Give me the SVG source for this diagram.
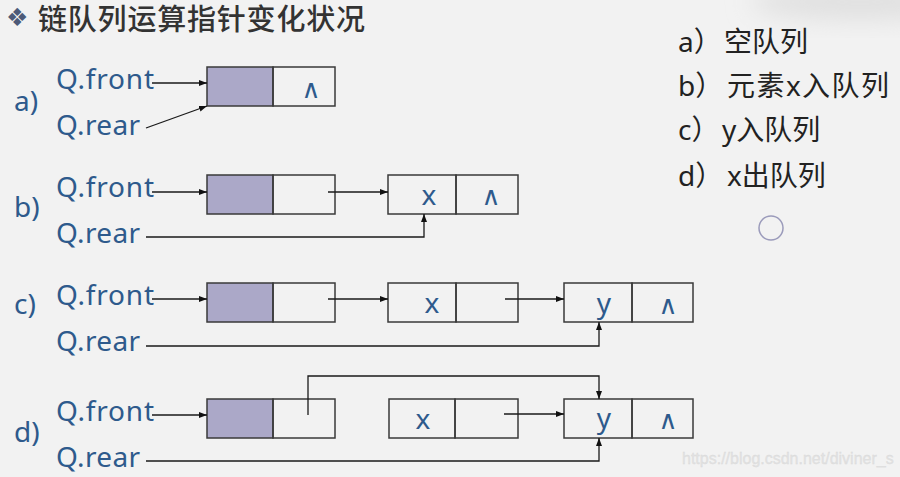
<svg xmlns="http://www.w3.org/2000/svg" width="900" height="477" viewBox="0 0 900 477">
<defs>
<marker id="ah" viewBox="0 0 8 6" refX="8" refY="3" markerWidth="8" markerHeight="6" markerUnits="userSpaceOnUse" orient="auto">
<path d="M0,0 L8,3 L0,6 Z" fill="#111"/>
</marker>
<filter id="blur" x="-50%" y="-50%" width="200%" height="200%"><feGaussianBlur stdDeviation="12"/></filter>
<style>
.bg{fill:#f2f2f2}
.box{fill:none;stroke:#3a3a3a;stroke-width:1.5}
.head{fill:#aba8c8;stroke:#3a3a3a;stroke-width:1.5}
.lbl{font-family:"Noto Sans","Open Sans",sans-serif;font-size:28px;fill:#2e5a8c}
.val{font-family:"Noto Sans","Open Sans",sans-serif;font-size:28px;fill:#2e5a8c;text-anchor:middle}
.nil{font-family:"DejaVu Sans",sans-serif;font-size:26px;fill:#2e5a8c;text-anchor:middle}
.con{fill:none;stroke:#1a1a1a;stroke-width:1.3}
.title{font-family:"Noto Sans CJK SC",sans-serif;font-size:29px;font-weight:500;fill:#333}
.note{font-family:"Noto Sans","Noto Sans CJK SC",sans-serif;font-size:28px;fill:#222}
</style>
</defs>
<rect class="bg" x="0" y="0" width="900" height="477"/>
<ellipse cx="860" cy="2" rx="110" ry="18" fill="#e0e0e0" filter="url(#blur)"/>

<g id="title">
<text x="6" y="26" font-family="DejaVu Sans,sans-serif" font-size="25" fill="#4d5a78">❖</text>
<text class="title" x="38" y="30" textLength="327">链队列运算指针变化状况</text>
</g>

<g id="legend">
<text class="note" x="678" y="52">a）<tspan x="724">空队列</tspan></text>
<text class="note" x="678" y="96">b）<tspan x="727" textLength="162">元素x入队列</tspan></text>
<text class="note" x="678" y="140">c）<tspan x="722">y入队列</tspan></text>
<text class="note" x="678" y="186">d）<tspan x="727">x出队列</tspan></text>
<circle cx="771" cy="228" r="12" fill="none" stroke="#9b9bbb" stroke-width="1.5"/>
</g>

<g id="row-a">
<text class="lbl" x="14" y="111">a)</text>
<text class="lbl" x="56" y="89" textLength="98">Q.front</text>
<text class="lbl" x="56" y="135" textLength="84">Q.rear</text>
</g>
<g id="node-a1">
<rect class="head" x="207" y="67" width="66" height="39"/>
<rect class="box" x="273" y="67" width="62" height="39"/>
<text class="nil" x="311" y="98">∧</text>
</g>

<g id="row-b">
<text class="lbl" x="14" y="217">b)</text>
<text class="lbl" x="56" y="197" textLength="98">Q.front</text>
<text class="lbl" x="56" y="243" textLength="84">Q.rear</text>
</g>
<g id="node-b1">
<rect class="head" x="207" y="175" width="66" height="39"/>
<rect class="box" x="273" y="175" width="62" height="39"/>
</g>
<g id="node-b2">
<rect class="box" x="388" y="175" width="68" height="39"/>
<rect class="box" x="456" y="175" width="62" height="39"/>
<text class="val" x="429" y="205">x</text>
<text class="nil" x="491" y="205">∧</text>
</g>

<g id="row-c">
<text class="lbl" x="14" y="314">c)</text>
<text class="lbl" x="56" y="305" textLength="98">Q.front</text>
<text class="lbl" x="56" y="351" textLength="84">Q.rear</text>
</g>
<g id="node-c1">
<rect class="head" x="207" y="283" width="66" height="39"/>
<rect class="box" x="273" y="283" width="62" height="39"/>
</g>
<g id="node-c2">
<rect class="box" x="388" y="283" width="68" height="39"/>
<rect class="box" x="456" y="283" width="62" height="39"/>
<text class="val" x="432" y="313">x</text>
</g>
<g id="node-c3">
<rect class="box" x="564" y="283" width="68" height="39"/>
<rect class="box" x="632" y="283" width="61" height="39"/>
<text class="val" x="604" y="313">y</text>
<text class="nil" x="668" y="314">∧</text>
</g>

<g id="row-d">
<text class="lbl" x="14" y="442">d)</text>
<text class="lbl" x="56" y="421" textLength="98">Q.front</text>
<text class="lbl" x="56" y="467" textLength="84">Q.rear</text>
</g>
<g id="node-d1">
<rect class="head" x="207" y="399" width="66" height="39"/>
<rect class="box" x="273" y="399" width="62" height="39"/>
</g>
<g id="node-d2">
<rect class="box" x="389" y="399" width="66" height="39"/>
<rect class="box" x="455" y="399" width="63" height="39"/>
<text class="val" x="423" y="429">x</text>
</g>
<g id="node-d3">
<rect class="box" x="564" y="399" width="68" height="39"/>
<rect class="box" x="632" y="399" width="61" height="39"/>
<text class="val" x="604" y="428">y</text>
<text class="nil" x="668" y="429">∧</text>
</g>

<g id="connectors">
<path class="con" marker-end="url(#ah)" d="M152,83 H207"/>
<path class="con" marker-end="url(#ah)" d="M146,128 L207,106"/>
<path class="con" marker-end="url(#ah)" d="M152,192 H207"/>
<path class="con" marker-end="url(#ah)" d="M328,192 H388"/>
<path class="con" marker-end="url(#ah)" d="M146,237 H424 V214"/>
<path class="con" marker-end="url(#ah)" d="M152,299 H207"/>
<path class="con" marker-end="url(#ah)" d="M328,299 H388"/>
<path class="con" marker-end="url(#ah)" d="M505,299 H564"/>
<path class="con" marker-end="url(#ah)" d="M146,346 H599 V322"/>
<path class="con" marker-end="url(#ah)" d="M152,415 H207"/>
<path class="con" marker-end="url(#ah)" d="M308,415 V376 H599 V399"/>
<path class="con" marker-end="url(#ah)" d="M504,414 H564"/>
<path class="con" marker-end="url(#ah)" d="M146,461 H599 V438"/>
</g>

<text x="682" y="464" font-family="Liberation Sans,sans-serif" font-size="16" fill="#e2e2e2" stroke="#d8d8d8" stroke-width="0.3">https://blog.csdn.net/diviner_s</text>
</svg>
